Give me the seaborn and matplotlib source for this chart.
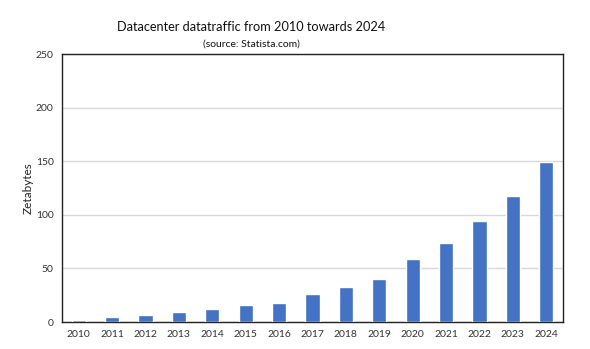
import matplotlib
matplotlib.use("Agg")
import matplotlib.pyplot as plt
import seaborn as sns
import pandas as pd

years = ["2010", "2011", "2012", "2013", "2014", "2015", "2016", "2017",
         "2018", "2019", "2020", "2021", "2022", "2023", "2024"]
zettabytes = [2, 4.7, 6.3, 9, 12.4, 15.5, 18, 26, 33, 40.5, 59, 74, 94, 118, 149]
yticks = [0, 50, 100, 150, 200, 250]

sns.set_theme(style="white")
plt.rcParams['font.family'] = ['Lato', 'DejaVu Sans']

df = pd.DataFrame({"year": years, "value": zettabytes})

fig = plt.figure(figsize=(5.9, 3.49), dpi=100)
ax = fig.add_axes([62/590, 27/349, (563-62)/590, (322-54)/349])
sns.barplot(data=df, x="year", y="value", color="#4472C4", saturation=1,
            width=0.42, ax=ax, zorder=3)
ax.set_ylim(0, 250)
ax.set_yticks(yticks)
ax.set_xlim(-0.5, len(years) - 0.5)
ax.yaxis.grid(True, color="#D9D9D9", linewidth=1, zorder=0)
ax.set_axisbelow(True)
for s in ax.spines.values():
    s.set_color("#222222")
    s.set_linewidth(1.0)
ax.tick_params(axis="both", length=0, labelsize=7.5, colors="#333333", pad=6)
ax.set_xlabel("")
ax.set_ylabel("Zetabytes", fontsize=8.5, color="#222222")
ax.yaxis.set_label_coords((34 - 62) / 501, 0.5)

fig.text(251/590, 1 - 27/349, "Datacenter datatraffic from 2010 towards 2024",
         ha="center", va="center", fontsize=9.2, color="#111111")
fig.text(251/590, 1 - 44/349, "(source: Statista.com)",
         ha="center", va="center", fontsize=7.5, color="#111111")

fig.savefig("out.png", dpi=100, facecolor="white")
